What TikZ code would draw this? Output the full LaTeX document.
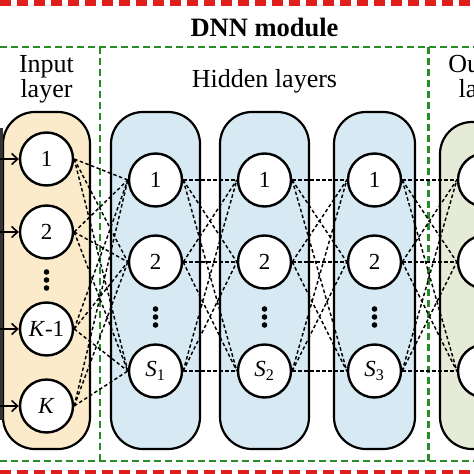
\documentclass[tikz,border=0pt]{standalone}
\usepackage{fontspec}
\setmainfont{Liberation Serif}
\usetikzlibrary{arrows.meta}
\definecolor{inputfill}{RGB}{252,235,203}
\definecolor{hidfill}{RGB}{215,233,242}
\definecolor{outfill}{RGB}{229,235,215}
\definecolor{grn}{RGB}{40,140,40}
\definecolor{redd}{RGB}{225,30,30}
\begin{document}
\begin{tikzpicture}[x=1pt,y=-1pt,
  neuron/.style={circle,draw,line width=2.4pt,fill=white,minimum size=53pt,inner sep=0pt,font=\fontsize{23}{23}\selectfont},
  layerbox/.style={draw,line width=2.2pt,rounded corners=32pt},
  conn/.style={line width=1.45pt,dash pattern=on 3.5pt off 2.5pt},
  greenline/.style={grn,line width=2.4pt,dash pattern=on 7pt off 4pt},
  redline/.style={redd,line width=6pt,dash pattern=on 11pt off 6pt},
  inarrow/.style={line width=1.6pt,-{Straight Barb[length=6pt,width=11pt,line width=1.6pt]}},
  title/.style={font=\fontsize{26.5}{26.5}\selectfont\bfseries,anchor=base},
  lbl/.style={font=\fontsize{26}{26}\selectfont,anchor=base,inner sep=0pt},
  vdot/.style={fill=black}
]
\useasboundingbox (0,0) rectangle (474,474);
\clip (0,0) rectangle (474,474);
\fill[white] (0,0) rectangle (474,474);

% red outer dashed frame
\draw[redline] (0,3) -- (474,3);
\draw[redline] (0,473) -- (474,473);

% title
\node[title] (title) at (264.5,36) {DNN module};

% layer boxes
\draw[layerbox,fill=inputfill] (3,112) rectangle (90,449);
\draw[layerbox,fill=hidfill] (111,112) rectangle (200,449);
\draw[layerbox,fill=hidfill] (220,112) rectangle (309,449);
\draw[layerbox,fill=hidfill] (334,112) rectangle (415,449);
\draw[layerbox,fill=outfill] (440,122) rectangle (529,449);

% green dashed module frame
\draw[greenline] (0,47) -- (474,47);
\draw[greenline] (0,461) -- (474,461);
\draw[greenline] (100,47) -- (100,461);
\draw[greenline] (428.5,47) -- (428.5,461);

% layer labels
\node[lbl] (inlab1) at (46.5,72) {Input};
\node[lbl] (inlab2) at (46.5,97) {layer};
\node[lbl] (hidlab) at (264.5,87) {Hidden layers};
\node[lbl] (outlab1) at (484.5,72) {Output};
\node[lbl] (outlab2) at (484.5,97) {layer};

% left bar
\draw[line width=2.6pt,black!80] (1.3,128) -- (1.3,420);

% neurons
\node[neuron] (i1) at (46.5,159) {1};
\node[neuron] (i2) at (46.5,232) {2};
\node[neuron] (i3) at (46.5,329) {\textit{K}-1};
\node[neuron] (i4) at (46.5,406) {\textit{K}};

\foreach \c/\x/\s in {1/155.5/1,2/264.5/2,3/374.5/3}{
  \node[neuron] (h\c a) at (\x,180) {1};
  \node[neuron] (h\c b) at (\x,262) {2};
  \node[neuron] (h\c c) at (\x,371) {\textit{S}\textsubscript{\s}};
  \fill[vdot] (\x,309) circle (2.8);
  \fill[vdot] (\x,317) circle (2.8);
  \fill[vdot] (\x,325) circle (2.8);
}
\node[neuron] (o1) at (484.5,180) {};
\node[neuron] (o2) at (484.5,262) {};
\node[neuron] (o3) at (484.5,371) {};

\fill[vdot] (46.5,272) circle (2.8);
\fill[vdot] (46.5,280) circle (2.8);
\fill[vdot] (46.5,288) circle (2.8);

% input arrows
\foreach \n/\y in {i1/159,i2/232,i3/329,i4/406}{
  \coordinate (s\n) at (0,\y);
  \draw[inarrow] (s\n) -- (\n.west);
}

% connections
\foreach \a in {i1,i2,i3,i4}
  \foreach \b in {h1a,h1b,h1c}
    \draw[conn] (\a.east) -- (\b.west);
\foreach \a in {h1a,h1b,h1c}
  \foreach \b in {h2a,h2b,h2c}
    \draw[conn] (\a.east) -- (\b.west);
\foreach \a in {h2a,h2b,h2c}
  \foreach \b in {h3a,h3b,h3c}
    \draw[conn] (\a.east) -- (\b.west);
\foreach \a in {h3a,h3b,h3c}
  \foreach \b in {o1,o2,o3}
    \draw[conn] (\a.east) -- (\b.west);
\end{tikzpicture}
\end{document}
